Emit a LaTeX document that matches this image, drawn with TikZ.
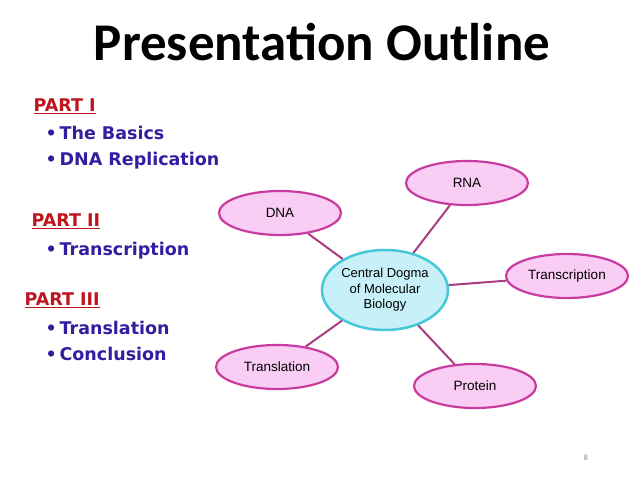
\documentclass[tikz,border=0pt]{standalone}
\usepackage{fontspec}
\setmainfont{Carlito}
\newfontfamily\lsans{Liberation Sans}
\newfontfamily\side{DejaVu Sans}
\usetikzlibrary{shapes.geometric}
\definecolor{ptred}{RGB}{190,20,30}
\definecolor{ptblue}{RGB}{50,30,160}
\definecolor{ellpink}{RGB}{250,205,245}
\definecolor{edgepink}{RGB}{200,60,160}
\definecolor{cyanf}{RGB}{200,240,248}
\definecolor{cyanb}{RGB}{70,200,215}
\definecolor{linkc}{RGB}{170,60,130}
\begin{document}
\begin{tikzpicture}[x=1pt,y=-1pt,
  topic/.style={ellipse,draw=edgepink,line width=2.2pt,fill=ellpink,minimum width=122pt,minimum height=44pt,inner sep=0pt,font=\lsans\fontsize{13.5}{15}\selectfont},
  hub/.style={ellipse,draw=cyanb,line width=2.5pt,fill=cyanf,minimum width=126pt,minimum height=80pt,inner sep=0pt,align=center,font=\lsans\fontsize{13}{15.5}\selectfont},
  link/.style={draw=linkc,line width=2pt},
  part/.style={anchor=base west,text=ptred,font=\side\bfseries\fontsize{17.5}{20}\selectfont},
  item/.style={anchor=base west,text=ptblue,font=\side\bfseries\fontsize{17.5}{20}\selectfont}]
\useasboundingbox (0,0) rectangle (638,478);
\node[font=\bfseries\fontsize{53}{58}\selectfont] (title) at (322,42) {Presentation Outline};
\node[part] (p1) at (30,112) {\underline{PART I}};
\node[item] (i1) at (42,140) {•\,The Basics};
\node[item] (i2) at (42,166) {•\,DNA Replication};
\node[part] (p2) at (28,227) {\underline{PART II}};
\node[item] (i3) at (42,256) {•\,Transcription};
\node[part] (p3) at (21,306) {\underline{PART III}};
\node[item] (i4) at (42,335) {•\,Translation};
\node[item] (i5) at (42,361) {•\,Conclusion};
\node[hub] (c) at (385,290) {Central Dogma\\of Molecular\\Biology};
\node[topic] (dna) at (280,213) {DNA};
\node[topic] (rna) at (467,183) {RNA};
\node[topic] (tr) at (567,276) {Transcription};
\node[topic] (tl) at (277,367) {Translation};
\node[topic] (pr) at (475,386) {Protein};
\draw[link] (c) -- (dna);
\draw[link] (c) -- (rna);
\draw[link] (c) -- (tr);
\draw[link] (c) -- (tl);
\draw[link] (c) -- (pr);
\node[text=gray,font=\fontsize{8}{9}\selectfont] (pg) at (586,458) {8};
\end{tikzpicture}
\end{document}
